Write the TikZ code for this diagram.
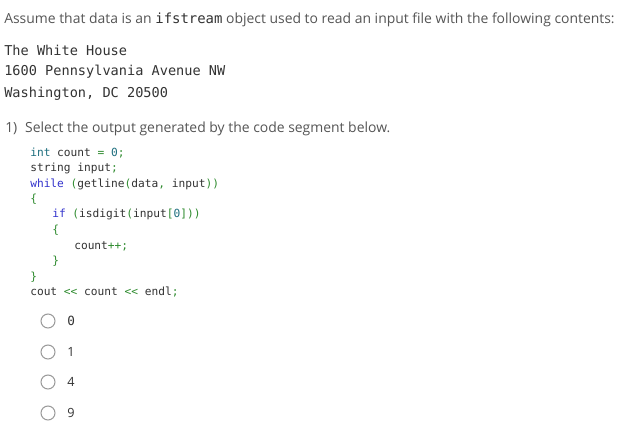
\documentclass[tikz,border=0pt]{standalone}
\usepackage{fontspec}
\setmainfont{Open Sans}
\setmonofont{DejaVu Sans Mono}
\usepackage{xcolor}
\definecolor{txtgray}{HTML}{555555}
\definecolor{kwblue}{HTML}{3333CC}
\definecolor{kwteal}{HTML}{1F6F7F}
\definecolor{pgreen}{HTML}{2E8B2E}
\definecolor{codeblk}{HTML}{333333}
\definecolor{ringgray}{HTML}{9A9A9A}
\newcommand{\kw}[1]{\textcolor{kwblue}{#1}}
\newcommand{\ty}[1]{\textcolor{kwteal}{#1}}
\newcommand{\pu}[1]{\textcolor{pgreen}{#1}}
\tikzset{
  prose/.style={anchor=west, inner sep=0pt, text=txtgray, font=\fontsize{10.45}{12}\selectfont},
  filetxt/.style={anchor=west, inner sep=0pt, text=codeblk, font=\ttfamily\fontsize{10.2}{12}\selectfont},
  codeline/.style={anchor=west, inner sep=0pt, text=codeblk, font=\ttfamily\fontsize{8.4}{10}\selectfont},
  radio/.style={circle, draw=ringgray, line width=0.8pt, minimum size=10.5pt, inner sep=0pt},
  choice/.style={anchor=west, inner sep=0pt, text=codeblk, font=\fontsize{9.5}{11}\selectfont},
}
\begin{document}
\begin{tikzpicture}[x=0.75pt,y=-0.75pt]
  \useasboundingbox[fill=white] (0,0) rectangle (626,429);
  % intro
  \node[prose] (intro) at (4,20) {Assume that data is an \texttt{\textcolor{codeblk}{ifstream}} object used to read an input file with the following contents:};
  \node[filetxt] (f1) at (4,50) {The White House};
  \node[filetxt] (f2) at (4,72) {1600 Pennsylvania Avenue NW};
  \node[filetxt] (f3) at (4,94) {Washington, DC 20500};
  % question
  \node[prose] (q) at (5,129) {1)\hspace{0.3em} Select the output generated by the code segment below.};
  % code
  \node[codeline] (c1) at (30,153) {\ty{int} count \pu{=} \ty{0}\pu{;}};
  \node[codeline] (c2) at (30,168) {string input\pu{;}};
  \node[codeline] (c3) at (30,184) {\kw{while} \pu{(}getline\pu{(}data\pu{,} input\pu{))}};
  \node[codeline] (c4) at (30,199) {\pu{\{}};
  \node[codeline] (c5) at (52,214) {\kw{if} \pu{(}isdigit\pu{(}input\pu{[}\ty{0}\pu{]))}};
  \node[codeline] (c6) at (52,230) {\pu{\{}};
  \node[codeline] (c7) at (74,246) {count\pu{++;}};
  \node[codeline] (c8) at (52,261) {\pu{\}}};
  \node[codeline] (c9) at (30,277) {\pu{\}}};
  \node[codeline] (c10) at (30,292) {cout \pu{<<} count \pu{<<} endl\pu{;}};
  % choices
  \foreach \y/\lab [count=\i] in {321/\texttt{0}, 352/1, 382/4, 413/9} {
    \node[radio] (r\i) at (48,\y) {};
    \node[choice] (a\i) at (67,\y) {\lab};
  }
\end{tikzpicture}
\end{document}
